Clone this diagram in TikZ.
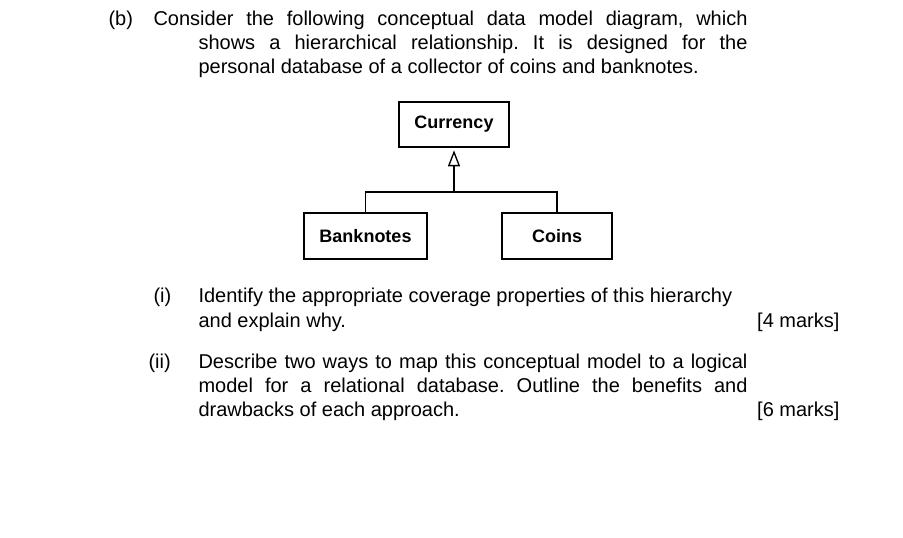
\documentclass[tikz,border=0pt]{standalone}
\usepackage{fontspec}
\setmainfont{Liberation Sans}
\usetikzlibrary{arrows.meta}
\frenchspacing

\begin{document}
\begin{tikzpicture}[x=0.75pt,y=-0.75pt,thick,font=\fontsize{15}{18}\selectfont]
\tikzstyle{ent}=[draw,line width=1pt,inner sep=0pt,font=\fontsize{13.5}{16}\selectfont\bfseries]
\tikzstyle{txt}=[anchor=base west,inner sep=0pt]
\tikzstyle{link}=[line width=1pt]
\useasboundingbox (0,0) rectangle (903,538);

\node[txt] (b) at (108,26) {(b)};
\node[txt] (l1) at (153,26) {\makebox[445.5pt][s]{Consider the following conceptual data model diagram, which}};
\node[txt] (l2) at (198,50) {\makebox[411.75pt][s]{shows a hierarchical relationship. It is designed for the}};
\node[txt] (l3) at (198,74) {personal database of a collector of coins and banknotes.};

\node[ent,minimum width=82.5pt,minimum height=33.75pt] (C) at (454,124.5) {Currency};
\node[ent,minimum width=92.25pt,minimum height=34.5pt] (BN) at (365.5,236) {Banknotes};
\node[ent,minimum width=82.5pt,minimum height=34.5pt] (CO) at (557,236) {Coins};

\coordinate (J) at (454,192);
\coordinate (JL) at (BN.north |- J);
\coordinate (JR) at (CO.north |- J);
\draw[link,-{Triangle[open,length=12pt,width=9pt]}] (J) -- ([yshift=-2pt]C.south);
\draw[link] (BN.north) -- (JL) -- (JR) -- (CO.north);

\node[txt] (i) at (153,303) {(i)};
\node[txt] (i1) at (198,303) {Identify the appropriate coverage properties of this hierarchy};
\node[txt] (i2) at (198,327) {and explain why.};
\node[txt,anchor=base east] (m4) at (840,327) {[4 marks]};

\node[txt] (ii) at (148,368) {(ii)};
\node[txt] (ii1) at (198,368) {\makebox[411.75pt][s]{Describe two ways to map this conceptual model to a logical}};
\node[txt] (ii2) at (198,392) {\makebox[411.75pt][s]{model for a relational database. Outline the benefits and}};
\node[txt] (ii3) at (198,416) {drawbacks of each approach.};
\node[txt,anchor=base east] (m6) at (840,416) {[6 marks]};
\end{tikzpicture}
\end{document}
